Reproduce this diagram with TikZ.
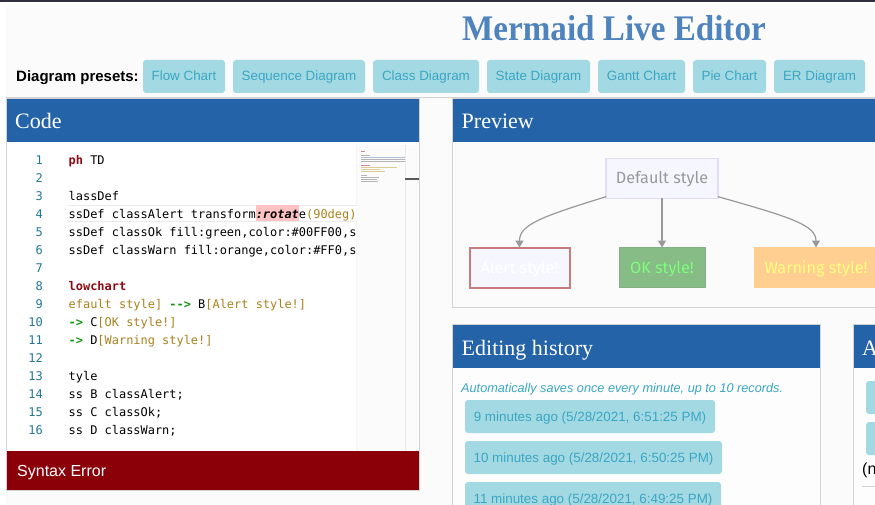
\documentclass[tikz,border=0pt]{standalone}
\usepackage{fontspec}
\usetikzlibrary{arrows.meta,positioning}
\setmainfont{Liberation Sans}
\setmonofont{DejaVu Sans Mono}
\newfontfamily\headfont{Liberation Serif}
\newfontfamily\flowfont{Fira Sans}
\definecolor{barcol}{HTML}{2E3040}
\definecolor{pagecol}{HTML}{FBFBFC}
\definecolor{rulecol}{HTML}{D2D2D2}
\definecolor{titlecol}{HTML}{4F83BD}
\definecolor{headcol}{HTML}{2463A8}
\definecolor{btncol}{HTML}{A3D9E2}
\definecolor{btntext}{HTML}{3BA6C4}
\definecolor{errcol}{HTML}{8B0008}
\definecolor{kwcol}{HTML}{8E0A12}
\definecolor{strcol}{HTML}{A9821F}
\definecolor{arrcol}{HTML}{149414}
\definecolor{numcol}{HTML}{237893}
\definecolor{edgecol}{HTML}{999999}
\definecolor{miniblue}{HTML}{A9BFD6}
\definecolor{minigray}{HTML}{B4B4B4}
\definecolor{minired}{HTML}{CF8A8E}
\definecolor{minigold}{HTML}{DCCB92}
\definecolor{lavfill}{HTML}{F6F6FF}
\definecolor{lavdraw}{HTML}{E3DCF8}
\definecolor{alertdraw}{HTML}{C77B7B}
\definecolor{okfill}{HTML}{87BC87}
\definecolor{okdraw}{HTML}{84B084}
\definecolor{oktext}{HTML}{7DFF7D}
\definecolor{warnfill}{HTML}{FFCF91}
\definecolor{warntext}{HTML}{FFFF80}
\tikzset{
  btn/.style={fill=btncol,rounded corners=3pt,text=btntext,font=\fontsize{13.4}{16}\selectfont,
    minimum height=33pt,inner sep=0pt,outer sep=0pt,text height=11pt,text depth=2pt},
  panelhead/.style={text=white,anchor=base west,inner sep=0pt,font=\headfont\fontsize{22}{24}\selectfont},
  panelrule/.style={draw=rulecol,line width=1pt},
  codeline/.style={anchor=base west,inner sep=0pt,font=\ttfamily\fontsize{11.95}{14}\selectfont},
  lineno/.style={anchor=base east,inner sep=0pt,text=numcol,font=\ttfamily\fontsize{12}{14}\selectfont},
  flownode/.style={draw,minimum height=40pt,inner sep=0pt,outer sep=0pt,text height=13pt,text depth=2pt,
    font=\flowfont\fontsize{16.2}{18}\selectfont},
  flowedge/.style={draw=edgecol,line width=1.2pt,-{Triangle[width=8pt,length=7pt]}},
}
\begin{document}
\begin{tikzpicture}[x=1pt,y=-1pt]
  \useasboundingbox (0,0) rectangle (875,505);
  \clip (0,0) rectangle (875,505);
  \fill[white] (0,0) rectangle (875,505);
  \fill[pagecol] (6,4) rectangle (875,505);
  \fill[barcol] (0,0) rectangle (875,2);
  \node[anchor=base west,inner sep=0pt,text=titlecol,font=\headfont\bfseries\fontsize{36}{38}\selectfont]
    (title) at (462,40.5) {\scalebox{0.92}[1]{Mermaid Live Editor}};

  % presets
  \node[anchor=base west,inner sep=0pt,font=\bfseries\fontsize{15}{18}\selectfont]
    (presets) at (16,82) {Diagram presets:};
  \node[btn,minimum width=82pt] (flow) at (184,76.5) {Flow Chart};
  \node[btn,minimum width=132pt,right=8pt of flow]  (seq)   {Sequence Diagram};
  \node[btn,minimum width=106pt,right=8pt of seq]   (class) {Class Diagram};
  \node[btn,minimum width=103pt,right=8pt of class] (state) {State Diagram};
  \node[btn,minimum width=87pt,right=8pt of state]  (gantt) {Gantt Chart};
  \node[btn,minimum width=73pt,right=8pt of gantt]  (pie)   {Pie Chart};
  \node[btn,minimum width=91pt,right=8pt of pie]    (er)    {ER Diagram};
  \draw[rulecol,line width=1.2pt] (6,97.5) -- (875,97.5);

  % code panel
  \fill[white] (6.5,98.5) rectangle (419.5,490.5);
  \fill[pagecol] (357,145) rectangle (419,451);
  \fill[black!4] (355.5,145) rectangle (357,451);
  \draw[rulecol!50] (405.5,145) -- (405.5,451);
  \draw[black!65,line width=1.6pt] (405,179) -- (419,179);
  \foreach \row/\upto/\col in {1/365/minired,3/370/minigray,4/405/miniblue,5/405/minigray,6/405/minigray,
      8/370/minired,9/397/minigold,10/380/minigold,11/385/minigold,
      13/367/minigray,14/379/minigray,15/377/minigray,16/378/minigray}
    \fill[\col] (361,150.8+2*\row-2) rectangle (\upto,152.4+2*\row-2);
  \fill[black!8] (68,205) rectangle (357,222);
  \fill[white] (68,206.5) rectangle (357,220.5);
  \fill[red!24] (256,205.5) rectangle (299,221);
  \foreach \n in {1,...,16}
    \node[lineno] (num\n) at (43,164.5+18*\n-18) {\n};
  \node[codeline] (line1) at (68.5,164.5) {\textcolor{kwcol}{\bfseries ph} TD};
  \node[codeline] (line3) at (68.5,200.5) {lassDef};
  \node[codeline] (line4) at (68.5,218.5) {ssDef classAlert transform\textbf{\textit{:rotat}}e\textcolor{strcol}{(90deg)}};
  \node[codeline] (line5) at (68.5,236.5) {ssDef classOk fill:green,color:\#00FF00,s};
  \node[codeline] (line6) at (68.5,254.5) {ssDef classWarn fill:orange,color:\#FF0,s};
  \node[codeline] (line8) at (68.5,290.5) {\textcolor{kwcol}{\bfseries lowchart}};
  \node[codeline] (line9) at (68.5,308.5) {\textcolor{strcol}{efault style]} \textcolor{arrcol}{\bfseries -{}->} B\textcolor{strcol}{[Alert style!]}};
  \node[codeline] (line10) at (68.5,326.5) {\textcolor{arrcol}{\bfseries -{}>} C\textcolor{strcol}{[OK style!]}};
  \node[codeline] (line11) at (68.5,344.5) {\textcolor{arrcol}{\bfseries -{}>} D\textcolor{strcol}{[Warning style!]}};
  \node[codeline] (line13) at (68.5,380.5) {tyle};
  \node[codeline] (line14) at (68.5,398.5) {ss B classAlert;};
  \node[codeline] (line15) at (68.5,416.5) {ss C classOk;};
  \node[codeline] (line16) at (68.5,434.5) {ss D classWarn;};
  \draw[panelrule] (6.5,98.5) rectangle (419.5,490.5);
  \fill[headcol] (7,99) rectangle (419,142);
  \fill[errcol] (7,451) rectangle (419,490);
  \node[panelhead] (codehead) at (15,129) {Code};
  \node[anchor=base west,inner sep=0pt,text=white,font=\fontsize{16}{18}\selectfont] (errtext) at (17,476) {Syntax Error};

  % preview panel
  \draw[panelrule] (452.5,98.5) rectangle (880,307.5);
  \fill[headcol] (453,99) rectangle (880,142);
  \node[panelhead] (prevhead) at (461.5,129) {Preview};
  \node[flownode,fill=lavfill,draw=lavdraw,line width=1.2pt,text=edgecol,minimum width=112pt] (deflt) at (662,178.5) {Default style};
  \node[flownode,fill=lavfill,draw=alertdraw,line width=2pt,text=white,minimum width=100pt] (alert) at (519.5,267.5) {Alert style!};
  \node[flownode,fill=okfill,draw=okdraw,line width=1pt,text=oktext,minimum width=86pt] (okay) at (662,267.5) {OK style!};
  \node[flownode,fill=warnfill,draw=warnfill,line width=1pt,text=warntext,minimum width=124pt] (warn) at (816,267.5) {Warning style!};
  \path[flowedge] (deflt.198) .. controls (540,217) and (519.5,225) .. (alert.north);
  \path[flowedge] (deflt.south) -- (okay.north);
  \path[flowedge] (deflt.-18) .. controls (790,217) and (816,225) .. (warn.north);

  % history panel
  \filldraw[fill=white!50!pagecol,panelrule] (452.5,324.5) rectangle (820.5,510);
  \fill[headcol] (453,325) rectangle (820,368);
  \node[panelhead] (histhead) at (461.5,355) {Editing history};
  \node[anchor=base west,inner sep=0pt,text=btntext,font=\itshape\fontsize{12.7}{14}\selectfont] (histnote) at (461,392) {Automatically saves once every minute, up to 10 records.};
  \node[btn,minimum width=250pt,anchor=north west] (hist1) at (465,400) {9 minutes ago (5/28/2021, 6:51:25 PM)};
  \node[btn,minimum width=257pt,below right=8pt and 0pt of hist1.south west] (hist2) {10 minutes ago (5/28/2021, 6:50:25 PM)};
  \node[btn,minimum width=256pt,below right=8pt and 0pt of hist2.south west] (hist3) {11 minutes ago (5/28/2021, 6:49:25 PM)};

  % cut off panel
  \filldraw[fill=white!50!pagecol,panelrule] (853.5,324.5) rectangle (880,510);
  \fill[headcol] (854,325) rectangle (880,368);
  \node[panelhead] (acthead) at (862,355) {A};
  \node[btn,minimum width=30pt,anchor=north west] (act1) at (866,381) {};
  \node[btn,minimum width=30pt,anchor=north west] (act2) at (866,422) {};
  \node[anchor=base west,inner sep=0pt,font=\fontsize{16}{18}\selectfont] (actnote) at (862,474) {(n};
  \draw[rulecol] (862,486.5) -- (875,486.5);
\end{tikzpicture}
\end{document}
